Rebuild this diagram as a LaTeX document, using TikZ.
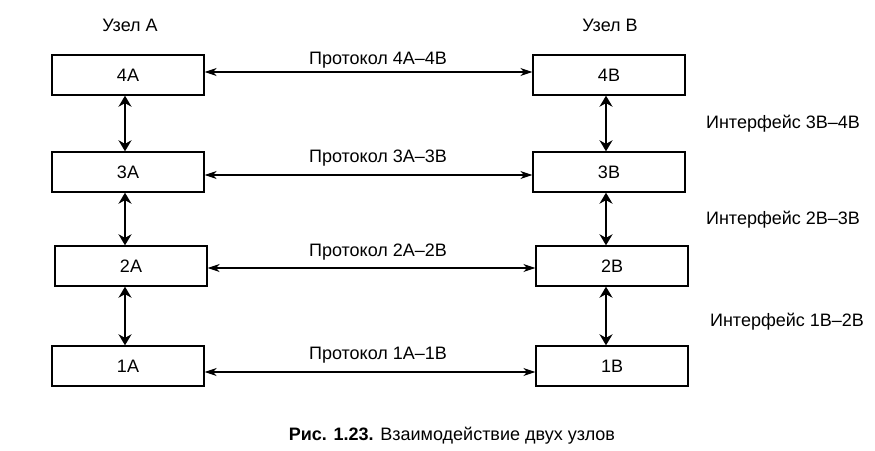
\documentclass[tikz,border=0pt]{standalone}
\usepackage{fontspec}
\setmainfont{Liberation Sans}
\usetikzlibrary{arrows.meta}
\begin{document}
\begin{tikzpicture}[x=1pt,y=-1pt,
  box/.style={draw,line width=1.4pt,minimum width=152pt,minimum height=40pt,inner sep=0pt,font=\fontsize{18}{20}\selectfont},
  lbl/.style={font=\fontsize{18}{20}\selectfont,inner sep=1pt},
  harr/.style={{Stealth[length=12pt,width=8pt]}-{Stealth[length=12pt,width=8pt]},line width=1.1pt},
  varr/.style={{Stealth[length=11pt,width=13pt]}-{Stealth[length=11pt,width=13pt]},line width=2.4pt}]
\useasboundingbox (0,0) rectangle (875,450);
\node[lbl] (ua) at (130,25) {Узел А};
\node[lbl] (ub) at (610,25) {Узел В};
\node[box] (a4) at (128,75) {4А};
\node[box] (a3) at (128,172) {3А};
\node[box] (a2) at (131,266) {2А};
\node[box] (a1) at (128,366) {1А};
\node[box] (b4) at (609,75) {4В};
\node[box] (b3) at (609,172) {3В};
\node[box] (b2) at (612,266) {2В};
\node[box] (b1) at (612,366) {1В};
\foreach \i/\y in {4/72,3/175,2/268,1/372}{
  \draw[harr] (a\i.east |- 0,\y) -- (b\i.west |- 0,\y);
}
\node[lbl] (p4) at (378,60) {Протокол 4А–4В};
\node[lbl] (p3) at (378,158) {Протокол 3А–3В};
\node[lbl] (p2) at (378,252) {Протокол 2А–2В};
\node[lbl] (p1) at (378,355) {Протокол 1А–1В};
\draw[varr] (a4.south -| 125,0) -- (a3.north -| 125,0);
\draw[varr] (a3.south -| 125,0) -- (a2.north -| 125,0);
\draw[varr] (a2.south -| 125,0) -- (a1.north -| 125,0);
\draw[varr] (b4.south -| 606,0) -- (b3.north -| 606,0);
\draw[varr] (b3.south -| 606,0) -- (b2.north -| 606,0);
\draw[varr] (b2.south -| 606,0) -- (b1.north -| 606,0);
\node[lbl] (i4) at (783,124) {Интерфейс 3В–4В};
\node[lbl] (i3) at (783,220) {Интерфейс 2В–3В};
\node[lbl] (i2) at (787,322) {Интерфейс 1В–2В};
\node[lbl] (cap) at (452,436) {\textbf{Рис. 1.23.} Взаимодействие двух узлов};
\end{tikzpicture}
\end{document}
